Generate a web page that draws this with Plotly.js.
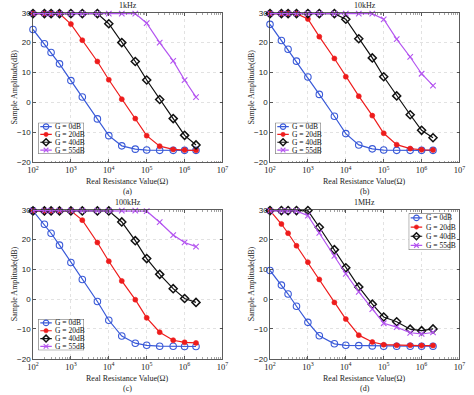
<!DOCTYPE html>
<html>
<head>
<meta charset="utf-8">
<script src="https://cdn.plot.ly/plotly-3.0.1.min.js"></script>
<style>html,body{margin:0;padding:0;background:#fff;}#chart{width:474px;height:395px;}</style>
</head>
<body>
<div id="chart"></div>
<script>
// ---------- data ----------
const resistance = [100, 200, 300, 500, 1000, 2000, 5000, 10000, 22000, 50000, 100000, 220000, 500000, 1000000, 2000000];
const gainLabels = ['G = 0dB', 'G = 20dB', 'G = 40dB', 'G = 55dB'];
const panelTitles = ['1kHz', '10kHz', '100kHz', '1MHz'];
const panelTags = ['(a)', '(b)', '(c)', '(d)'];
const xAxisTitle = 'Real Resistance Value(\u03A9)';
const yAxisTitle = 'Sample Amplitude(dB)';
const xTickVals = [100, 1000, 10000, 100000, 1000000, 10000000];
const yTickVals = [-20, -10, 0, 10, 20, 30];

// 1 kHz
const amp1k_G0  = [24.4, 19.6, 16.7, 12.9, 7.3, 1.8, -5.5, -11.1, -14.5, -15.6, -15.9, -16.0, -16.0, -16.0, -16.0];
const amp1k_G20 = [29.7, 29.7, 29.7, 29.7, 26.2, 20.8, 13.7, 7.6, 1.1, -5.4, -11.1, -14.6, -15.7, -15.9, -16.0];
const amp1k_G40 = [29.7, 29.7, 29.7, 29.7, 29.7, 29.7, 29.7, 26.3, 20.0, 13.7, 7.5, 1.0, -5.4, -11.0, -14.2];
const amp1k_G55 = [29.7, 29.7, 29.7, 29.7, 29.7, 29.7, 29.7, 29.7, 29.7, 29.7, 26.5, 20.0, 13.9, 7.5, 1.8];
// 10 kHz
const amp10k_G0  = [26.1, 20.7, 17.8, 13.8, 8.5, 2.7, -4.6, -10.4, -14.2, -15.5, -15.9, -16.0, -16.0, -16.0, -16.0];
const amp10k_G20 = [29.7, 29.7, 29.7, 29.7, 27.9, 22.0, 14.7, 8.6, 2.1, -4.4, -10.3, -14.1, -15.4, -15.8, -15.9];
const amp10k_G40 = [29.7, 29.7, 29.7, 29.7, 29.7, 29.7, 29.7, 27.8, 21.3, 14.9, 8.6, 2.2, -4.1, -9.3, -11.8];
const amp10k_G55 = [29.7, 29.7, 29.7, 29.7, 29.7, 29.7, 29.7, 29.7, 29.7, 29.7, 27.8, 21.2, 15.2, 9.6, 5.6];
// 100 kHz
const amp100k_G0  = [29.6, 25.1, 22.1, 18.1, 12.3, 6.6, -0.8, -7.1, -12.4, -14.8, -15.5, -15.8, -15.8, -15.9, -15.9];
const amp100k_G20 = [29.6, 29.6, 29.6, 29.6, 29.6, 26.5, 19.0, 12.7, 6.1, -0.2, -6.3, -11.1, -13.8, -14.5, -14.7];
const amp100k_G40 = [29.6, 29.6, 29.6, 29.6, 29.6, 29.6, 29.6, 29.6, 25.9, 19.6, 13.6, 8.3, 3.5, 0.2, -1.1];
const amp100k_G55 = [29.7, 29.7, 29.7, 29.7, 29.7, 29.7, 29.7, 29.7, 29.7, 29.7, 29.5, 25.8, 21.5, 19.0, 17.6];
// 1 MHz
const amp1M_G0  = [9.6, 4.7, 1.7, -2.4, -7.8, -12.3, -15.0, -15.5, -15.6, -15.7, -15.8, -15.8, -15.8, -15.8, -15.8];
const amp1M_G20 = [29.7, 25.2, 22.1, 17.9, 12.4, 6.6, -1.1, -6.7, -12.1, -14.4, -15.3, -15.5, -15.5, -15.6, -15.6];
const amp1M_G40 = [29.7, 29.7, 29.7, 29.7, 29.7, 24.1, 16.6, 10.5, 4.1, -1.7, -6.0, -7.6, -10.1, -10.6, -10.0];
const amp1M_G55 = [29.6, 29.6, 29.6, 29.6, 28.0, 22.2, 14.5, 8.5, 2.4, -3.4, -8.1, -9.4, -11.3, -11.7, -11.2];

const panelSeries = [
  [amp1k_G0, amp1k_G20, amp1k_G40, amp1k_G55],
  [amp10k_G0, amp10k_G20, amp10k_G40, amp10k_G55],
  [amp100k_G0, amp100k_G20, amp100k_G40, amp100k_G55],
  [amp1M_G0, amp1M_G20, amp1M_G40, amp1M_G55]
];

// ---------- styles ----------
const W = 474, H = 395;
const seriesStyle = [
  {color: '#3a5ad8', symbol: 'circle-open', size: 6.5, mlw: 1.1},
  {color: '#ee1c1c', symbol: 'circle', size: 5, mlw: 0.6},
  {color: '#111111', symbol: 'diamond-open', size: 6.2, mlw: 1.5},
  {color: '#b455f0', symbol: 'x-thin-open', size: 5.5, mlw: 1.1}
];
// plot areas in pixels: [left, right, top, bottom]
const panelBox = [
  [33, 222.5, 12.7, 162.3],
  [270, 459.5, 12.7, 162.3],
  [33, 222.5, 209.7, 358.7],
  [270, 459.5, 209.7, 358.7]
];
// legend boxes in pixels: [left, right, top, bottom]
const legendBox = [
  [38.3, 84, 122.7, 154],
  [275.3, 321, 122.7, 154],
  [38.3, 84, 319, 350.3],
  [408.7, 450.3, 213.3, 250]
];
const px = v => v / W;
const py = v => 1 - v / H;

const serif = 'Liberation Serif, Times New Roman, serif';
const sans = 'Liberation Sans, Arial, sans-serif';
const axisColor = '#333333';

const layout = {
  width: W, height: H,
  margin: {l: 0, r: 0, t: 0, b: 0},
  paper_bgcolor: '#ffffff',
  plot_bgcolor: '#ffffff',
  showlegend: false,
  annotations: [],
  shapes: []
};
const data = [];

const hiddenAxis = {visible: false, showticklabels: false, ticks: '', showgrid: false, zeroline: false, showline: false,
                    tickmode: 'array', tickvals: [], fixedrange: true};

panelBox.forEach((b, p) => {
  const n = p + 1;
  const xk = n === 1 ? 'xaxis' : 'xaxis' + n;
  const yk = n === 1 ? 'yaxis' : 'yaxis' + n;
  const xr = n === 1 ? 'x' : 'x' + n;
  const yr = n === 1 ? 'y' : 'y' + n;
  layout[xk] = {
    type: 'log', range: [2, 7], domain: [px(b[0]), px(b[1])], anchor: yr,
    tickmode: 'array', tickvals: xTickVals, ticktext: xTickVals.map(v => '10<sup>' + Math.round(Math.log10(v)) + '</sup>'),
    ticks: 'inside', ticklen: 3, tickwidth: 0.8, tickcolor: axisColor,
    showline: true, linecolor: axisColor, linewidth: 0.8, mirror: 'ticks',
    showgrid: true, gridcolor: '#d6d6d6', griddash: 'dot', gridwidth: 0.7,
    zeroline: false,
    tickfont: {family: serif, size: 8.5, color: '#222'},
    minor: {ticks: 'inside', ticklen: 1.8, tickcolor: '#666', tickwidth: 0.6, showgrid: false,
            tickvals: [2,3,4,5,6,7,8,9].flatMap(m => [1e2,1e3,1e4,1e5,1e6].map(d => m * d))},
    fixedrange: true
  };
  layout[yk] = {
    range: [-20, 30], domain: [py(b[3]), py(b[2])], anchor: xr,
    tickmode: 'array', tickvals: yTickVals,
    ticks: 'inside', ticklen: 3, tickwidth: 0.8, tickcolor: axisColor,
    showline: true, linecolor: axisColor, linewidth: 0.8, mirror: 'ticks',
    showgrid: true, gridcolor: '#d6d6d6', griddash: 'dot', gridwidth: 0.7,
    zeroline: false,
    tickfont: {family: sans, size: 8, color: '#222'},
    fixedrange: true
  };
  panelSeries[p].forEach((ys, s) => {
    const st = seriesStyle[s];
    data.push({
      type: 'scatter', mode: 'lines+markers', name: gainLabels[s],
      x: resistance, y: ys, xaxis: xr, yaxis: yr, cliponaxis: false,
      line: {color: st.color, width: 1.2},
      marker: {symbol: st.symbol, size: st.size, color: st.color, line: {color: st.color, width: st.mlw}},
      showlegend: false
    });
  });
  const cx = px((b[0] + b[1]) / 2);
  layout.annotations.push(
    {text: panelTitles[p], xref: 'paper', yref: 'paper', x: cx, y: py(b[2] - 7), xanchor: 'center', yanchor: 'middle', showarrow: false, font: {family: serif, size: 8, color: '#222'}},
    {text: xAxisTitle, xref: 'paper', yref: 'paper', x: cx, y: py(b[3] + 19.5), xanchor: 'center', yanchor: 'middle', showarrow: false, font: {family: serif, size: 8, color: '#222'}},
    {text: panelTags[p], xref: 'paper', yref: 'paper', x: cx, y: py(b[3] + 29.3), xanchor: 'center', yanchor: 'middle', showarrow: false, font: {family: serif, size: 8, color: '#222'}},
    {text: yAxisTitle, xref: 'paper', yref: 'paper', x: px(b[0] - 19), y: py((b[2] + b[3]) / 2), xanchor: 'center', yanchor: 'middle', textangle: -90, showarrow: false, font: {family: serif, size: 8, color: '#222'}}
  );

  // custom compact legend on its own hidden axes
  const lb = legendBox[p];
  const ln = n + 4;
  const lxk = 'xaxis' + ln, lyk = 'yaxis' + ln, lxr = 'x' + ln, lyr = 'y' + ln;
  const wpx = lb[1] - lb[0];
  layout[lxk] = Object.assign({}, hiddenAxis, {domain: [px(lb[0]), px(lb[1])], range: [0, 1], anchor: lyr});
  layout[lyk] = Object.assign({}, hiddenAxis, {domain: [py(lb[3]), py(lb[2])], range: [0, 1], anchor: lxr});
  layout.shapes.push({type: 'rect', xref: lxr, yref: lyr, x0: 0, x1: 1, y0: 0, y1: 1, layer: 'below', fillcolor: '#ffffff', line: {color: '#333', width: 0.8}});
  gainLabels.forEach((lab, s) => {
    const st = seriesStyle[s];
    const ry = (3.5 - s) / 4;
    const x0 = 2 / wpx, x1 = 13.5 / wpx, xm = (x0 + x1) / 2;
    data.push({
      type: 'scatter', mode: 'lines+markers', x: [x0, xm, x1], y: [ry, ry, ry], xaxis: lxr, yaxis: lyr,
      cliponaxis: false, hoverinfo: 'skip', showlegend: false,
      line: {color: st.color, width: 1.2},
      marker: {symbol: st.symbol, size: st.size * 0.85, color: st.color, opacity: [0, 1, 0], line: {color: st.color, width: st.mlw}}
    });
    layout.annotations.push({text: lab, xref: lxr, yref: lyr, x: 15 / wpx, y: ry, xanchor: 'left', yanchor: 'middle', showarrow: false, font: {family: serif, size: 7.5, color: '#111'}});
  });
});

Plotly.newPlot('chart', data, layout, {staticPlot: true, displayModeBar: false});
</script>
</body>
</html>
